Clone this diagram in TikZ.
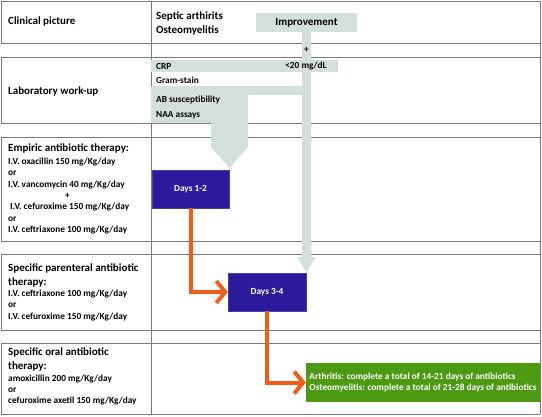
\documentclass[tikz,border=0pt]{standalone}
\usepackage{fontspec}
\setmainfont{Carlito}
\usetikzlibrary{arrows.meta}
\definecolor{grayarrow}{HTML}{D4DEDC}
\definecolor{linegray}{HTML}{7A7A7A}
\definecolor{dayblue}{HTML}{2B1A9C}
\definecolor{orangec}{HTML}{F25C19}
\definecolor{greenbox}{HTML}{4C9A12}
\begin{document}
\begin{tikzpicture}[x=1pt,y=-1pt,
  tableline/.style={draw=linegray, line width=1pt},
  hdr/.style={anchor=west, align=left, inner sep=0pt, font=\bfseries\fontsize{11}{14}\selectfont},
  small/.style={anchor=west, align=left, inner sep=0pt, font=\bfseries\fontsize{9.3}{11.3}\selectfont},
  daybox/.style={fill=dayblue, draw=dayblue!85!white, text=white, font=\bfseries\fontsize{9.3}{11}\selectfont, minimum height=38pt, inner sep=0pt},
  orangearrow/.style={draw=orangec, line width=4pt, -{Straight Barb[length=9pt,width=22pt,line width=4pt]}}]
\useasboundingbox (0,0) rectangle (542,416);
% table
\foreach \a/\b in {1/43,57/123,137/241,254/330,343/414}{
  \draw[tableline] (1,\a) rectangle (151,\b);
}
\foreach \y in {1,43,57,123,137,241,254,330,343,414}{
  \draw[tableline] (151,\y) -- (540,\y);
}
\draw[tableline] (151,1) -- (151,414);
\draw[tableline] (540,1) -- (540,414);
% gray shapes
\fill[grayarrow] (302,32) -- (311,32) -- (311,257) -- (315.5,257) -- (306.5,272.5) -- (297.5,257) -- (302,257) -- cycle;
\fill[grayarrow] (151,60) rectangle (338,72);
\fill[grayarrow] (151,86) -- (302,86) -- (302,95) -- (248,95) -- (248,147) -- (229.5,168) -- (211,147) -- (211,123) -- (151,123) -- cycle;
\node[fill=grayarrow, minimum width=101pt, minimum height=19pt, inner sep=0pt, font=\bfseries\fontsize{11}{14}\selectfont] (impr) at (306.5,22.5) {Improvement};
% left column texts
\node[hdr] (clin) at (8,22) {Clinical picture};
\node[hdr] (lab) at (8,92) {Laboratory work-up};
\node[hdr] (emph) at (8,148) {Empiric antibiotic therapy:};
\node[small] (emb) at (8,196) {I.V. oxacillin 150 mg/Kg/day\\or\\I.V. vancomycin 40 mg/Kg/day\\\hspace*{57pt}+\\\hspace*{2pt}I.V. cefuroxime 150 mg/Kg/day\\or\\I.V. ceftriaxone 100 mg/Kg/day};
\node[hdr] (parh) at (8,275) {Specific parenteral antibiotic\\therapy:};
\node[small] (parb) at (8,305.5) {I.V. ceftriaxone 100 mg/Kg/day\\or\\I.V. cefuroxime 150 mg/Kg/day};
\node[hdr] (oralh) at (8,359.5) {Specific oral antibiotic\\therapy:};
\node[small] (oralb) at (8,390) {amoxicillin 200 mg/Kg/day\\or\\cefuroxime axetil 150 mg/Kg/day};
% right column texts
\node[hdr] (sept) at (156,23) {Septic arthirits\\Osteomyelitis};
\node[small] (crp) at (156,66) {CRP};
\node[small] (gram) at (156,80) {Gram-stain};
\node[small, font=\bfseries\fontsize{9.3}{15}\selectfont] (ab) at (156,107.5) {AB susceptibility\\NAA assays};
\node[small, anchor=center] (lt20) at (306,66) {<20 mg/dL};
\node[small, anchor=center] (plus) at (306.5,50) {+};
% boxes
\node[daybox, minimum width=77pt] (d12) at (190.5,189) {Days 1-2};
\node[daybox, minimum width=78pt] (d34) at (267,292) {Days 3-4};
\node[fill=greenbox, text=white, minimum width=234pt, minimum height=39pt, inner xsep=1pt, inner ysep=1pt, align=left, font=\bfseries\fontsize{9.3}{11.5}\selectfont] (res) at (423,382.5) {Arthritis: complete a total of 14-21 days of antibiotics\\Osteomyelitis: complete a total of 21-28 days of antibiotics};
% orange arrows
\draw[orangearrow] (d12.south) |- (d34.west);
\draw[orangearrow] (d34.south) |- (res.west);
\end{tikzpicture}
\end{document}
